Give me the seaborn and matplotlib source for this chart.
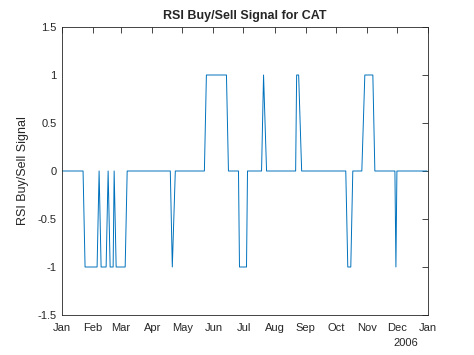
import pandas as pd
import seaborn as sns
import matplotlib
matplotlib.use('Agg')
import matplotlib.pyplot as plt
import matplotlib.dates as mdates

# signal vertices (the line is drawn straight between them)
sig_dates = ['2006-01-01', '2006-01-22', '2006-01-24', '2006-02-05', '2006-02-07',
             '2006-02-09', '2006-02-14', '2006-02-16', '2006-02-18', '2006-02-21',
             '2006-02-22', '2006-02-24', '2006-03-05', '2006-03-07', '2006-04-19',
             '2006-04-21', '2006-04-24', '2006-05-23', '2006-05-25', '2006-06-14',
             '2006-06-16', '2006-06-26', '2006-06-27', '2006-07-04', '2006-07-05',
             '2006-07-19', '2006-07-21', '2006-07-24', '2006-08-22', '2006-08-23',
             '2006-08-25', '2006-08-28', '2006-10-11', '2006-10-13', '2006-10-16',
             '2006-10-18', '2006-10-27', '2006-10-30', '2006-11-07', '2006-11-09',
             '2006-11-29', '2006-11-30', '2006-12-01', '2006-12-31']
sig_values = [0, 0, -1, -1, 0,
              -1, -1, 0, -1, -1,
              0, -1, -1, 0, 0,
              -1, 0, 0, 1, 1,
              0, 0, -1, -1, 0,
              0, 1, 0, 0, 1,
              1, 0, 0, -1, -1,
              0, 0, 1, 1, 0,
              0, -1, 0, 0]

y_ticks = [-1.5, -1, -0.5, 0, 0.5, 1, 1.5]
y_ticklabels = ['-1.5', '-1', '-0.5', '0', '0.5', '1', '1.5']

data = pd.DataFrame({'Date': pd.to_datetime(sig_dates), 'Signal': sig_values})

sns.set_style('white')
plt.rcParams['font.family'] = ['Liberation Sans', 'DejaVu Sans']

fig = plt.figure(figsize=(4.74, 3.55), dpi=100)
ax = fig.add_axes([62 / 474, 40 / 355, 366 / 474, 288 / 355])

sns.lineplot(data=data, x='Date', y='Signal', ax=ax, color='#0072BD',
             linewidth=0.7, estimator=None, sort=False)

ax.set_xlim(pd.Timestamp('2006-01-01'), pd.Timestamp('2007-01-01'))
ax.set_ylim(-1.5, 1.5)
ax.set_yticks(y_ticks)
ax.set_yticklabels(y_ticklabels)
ax.xaxis.set_major_locator(mdates.MonthLocator())
ax.xaxis.set_major_formatter(mdates.DateFormatter('%b'))

ax.tick_params(direction='in', length=4, width=0.6, colors='#262626',
               labelsize=8, top=True, right=True)
ax.tick_params(axis='x', pad=6)
ax.tick_params(axis='y', pad=4)
for s in ax.spines.values():
    s.set_color('#262626')
    s.set_linewidth(0.6)

ax.set_xlabel('')
ax.set_ylabel('RSI Buy/Sell Signal', fontsize=9, color='#262626', labelpad=6)
ax.set_title('RSI Buy/Sell Signal for CAT', fontsize=9, fontweight='bold', pad=6)
ax.text(0.94, -0.08, '2006', transform=ax.transAxes, ha='center', va='top',
        fontsize=8, color='#262626')

fig.savefig('out.png', dpi=100)
